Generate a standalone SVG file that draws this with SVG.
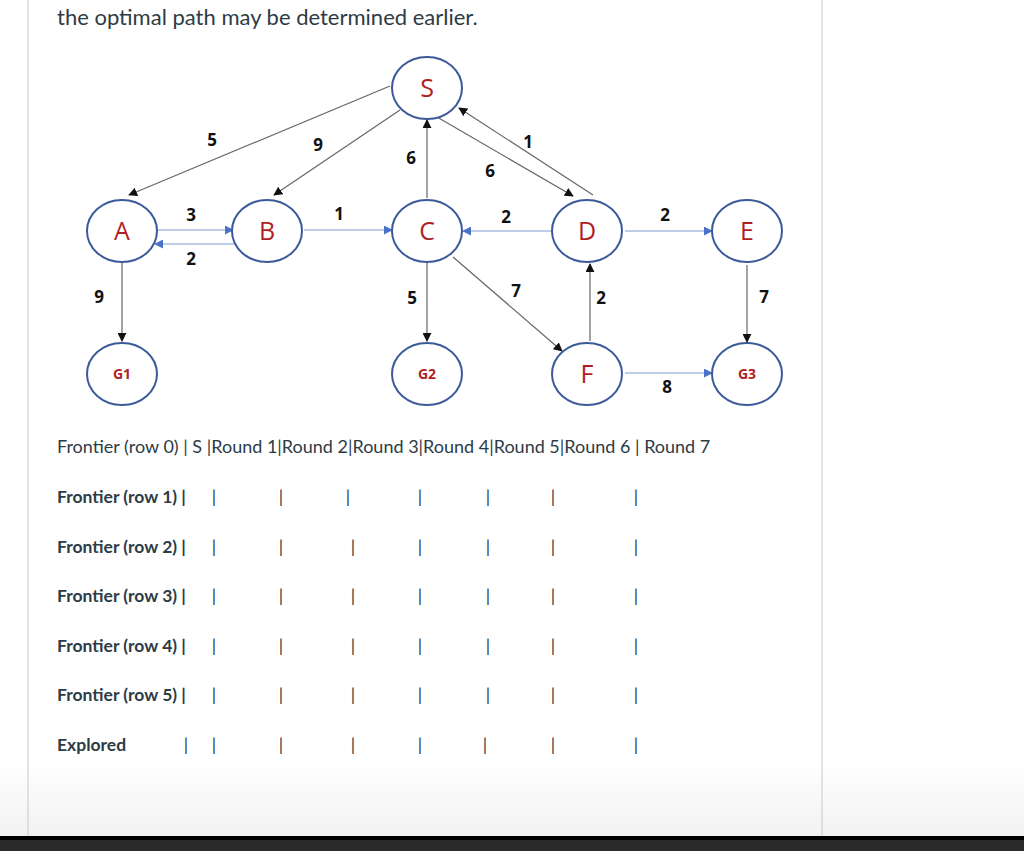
<svg xmlns="http://www.w3.org/2000/svg" width="1024" height="851" viewBox="0 0 1024 851">
<defs>
<linearGradient id="bg" x1="0" y1="0" x2="0" y2="1"><stop offset="0" stop-color="#fff"/><stop offset="1" stop-color="#f2f2f2"/></linearGradient>
<marker id="ak" viewBox="0 0 10 10" refX="9" refY="5" markerWidth="9" markerHeight="9" markerUnits="userSpaceOnUse" orient="auto"><path d="M0,0L10,5L0,10z" fill="#111"/></marker>
<marker id="ab" viewBox="0 0 10 10" refX="9" refY="5" markerWidth="9" markerHeight="9" markerUnits="userSpaceOnUse" orient="auto"><path d="M0,0L10,5L0,10z" fill="#4a72c8"/></marker>
</defs>
<style>
.n{fill:#fff;stroke:#3c5a9a;stroke-width:2}
.t{font-family:"Open Sans","Liberation Sans",sans-serif;fill:#b01e23;text-anchor:middle}
.big{font-size:25px}
.sm{font-size:14px;font-weight:bold}
.k{stroke:#666;stroke-width:1.2;fill:none;marker-end:url(#ak)}
.b{stroke:#7f9bd6;stroke-width:1.2;fill:none;marker-end:url(#ab)}
.w{font-family:"Open Sans","Liberation Sans",sans-serif;font-size:17px;font-weight:bold;fill:#111;text-anchor:middle}
.x{font-family:Lato,"Liberation Sans",sans-serif;fill:#2d3b45}
.r{font-size:18px}
.h{font-size:17.5px;font-weight:bold}
.p{font-size:17.5px;fill:#2d3b45}
</style>
<rect width="1024" height="851" fill="#fff"/>
<rect x="0" y="760" width="1024" height="76" fill="url(#bg)"/>
<line x1="28" y1="0" x2="28" y2="836" stroke="#c8c8c8"/>
<line x1="822" y1="0" x2="822" y2="836" stroke="#c8c8c8"/>
<rect x="0" y="836" width="1024" height="15" fill="#2a2a2a"/>
<rect x="0" y="836" width="1024" height="4" fill="#000"/>
<text class="x" x="57" y="25" font-size="22">the optimal path may be determined earlier.</text>
<g id="connectors">
<line class="k" x1="390" y1="86" x2="129" y2="195"/>
<line class="k" x1="400" y1="110" x2="274" y2="195"/>
<line class="k" x1="427" y1="198" x2="427" y2="120"/>
<line class="k" x1="437" y1="117" x2="573" y2="196"/>
<line class="k" x1="593" y1="195" x2="459" y2="108"/>
<line class="b" x1="158" y1="230" x2="233" y2="230"/>
<line class="b" x1="235" y1="244" x2="155" y2="244"/>
<line class="b" x1="304" y1="230" x2="392" y2="230"/>
<line class="b" x1="552" y1="231" x2="463" y2="231"/>
<line class="b" x1="625" y1="231" x2="712" y2="231"/>
<line class="k" x1="122" y1="263" x2="122" y2="341"/>
<line class="k" x1="427" y1="263" x2="427" y2="341"/>
<line class="k" x1="453" y1="257" x2="562" y2="351"/>
<line class="k" x1="590" y1="341" x2="590" y2="264"/>
<line class="k" x1="747" y1="265" x2="747" y2="342"/>
<line class="b" x1="625" y1="373" x2="712" y2="373"/>
<text class="w" x="212" y="146">5</text>
<text class="w" x="318" y="151">9</text>
<text class="w" x="411" y="164">6</text>
<text class="w" x="490" y="177">6</text>
<text class="w" x="528" y="148">1</text>
<text class="w" x="191" y="221">3</text>
<text class="w" x="191" y="265">2</text>
<text class="w" x="339" y="220">1</text>
<text class="w" x="506" y="223">2</text>
<text class="w" x="665" y="221">2</text>
<text class="w" x="99" y="303">9</text>
<text class="w" x="412" y="304">5</text>
<text class="w" x="516" y="297">7</text>
<text class="w" x="601" y="304">2</text>
<text class="w" x="764" y="303">7</text>
<text class="w" x="667" y="393">8</text>
</g>
<g id="S"><ellipse class="n" cx="427" cy="88" rx="35" ry="31"/><text class="t big" x="427" y="97">S</text></g>
<g id="A"><ellipse class="n" cx="122" cy="231" rx="35" ry="31"/><text class="t big" x="122" y="240">A</text></g>
<g id="B"><ellipse class="n" cx="267" cy="231" rx="35" ry="31"/><text class="t big" x="267" y="240">B</text></g>
<g id="C"><ellipse class="n" cx="427" cy="231" rx="35" ry="31"/><text class="t big" x="427" y="240">C</text></g>
<g id="D"><ellipse class="n" cx="587" cy="231" rx="35" ry="31"/><text class="t big" x="587" y="240">D</text></g>
<g id="E"><ellipse class="n" cx="747" cy="231" rx="35" ry="31"/><text class="t big" x="747" y="240">E</text></g>
<g id="G1"><ellipse class="n" cx="122" cy="374" rx="35" ry="31"/><text class="t sm" x="122" y="379">G1</text></g>
<g id="G2"><ellipse class="n" cx="427" cy="374" rx="35" ry="31"/><text class="t sm" x="427" y="379">G2</text></g>
<g id="F"><ellipse class="n" cx="587" cy="374" rx="35" ry="31"/><text class="t big" x="587" y="383">F</text></g>
<g id="G3"><ellipse class="n" cx="747" cy="374" rx="35" ry="31"/><text class="t sm" x="747" y="379">G3</text></g>
<g id="table" class="x">
<text class="r" x="57" y="453">Frontier (row 0) | S |Round 1|Round 2|Round 3|Round 4|Round 5|Round 6 | Round 7</text>
<text class="h" x="57" y="503">Frontier (row 1) |</text>
<text class="h" x="57" y="553">Frontier (row 2) |</text>
<text class="h" x="57" y="602">Frontier (row 3) |</text>
<text class="h" x="57" y="652">Frontier (row 4) |</text>
<text class="h" x="57" y="701">Frontier (row 5) |</text>
<text class="h" x="57" y="751">Explored</text>
<g text-anchor="middle">
<text class="p" y="503"><tspan x="214">|</tspan><tspan x="281">|</tspan><tspan x="348">|</tspan><tspan x="420">|</tspan><tspan x="488">|</tspan><tspan x="553">|</tspan><tspan x="636">|</tspan></text>
<text class="p" y="553"><tspan x="214">|</tspan><tspan x="281">|</tspan><tspan x="353">|</tspan><tspan x="420">|</tspan><tspan x="488">|</tspan><tspan x="553">|</tspan><tspan x="636">|</tspan></text>
<text class="p" y="602"><tspan x="214">|</tspan><tspan x="281">|</tspan><tspan x="353">|</tspan><tspan x="420">|</tspan><tspan x="488">|</tspan><tspan x="553">|</tspan><tspan x="636">|</tspan></text>
<text class="p" y="652"><tspan x="214">|</tspan><tspan x="281">|</tspan><tspan x="353">|</tspan><tspan x="420">|</tspan><tspan x="488">|</tspan><tspan x="553">|</tspan><tspan x="636">|</tspan></text>
<text class="p" y="701"><tspan x="214">|</tspan><tspan x="281">|</tspan><tspan x="353">|</tspan><tspan x="420">|</tspan><tspan x="488">|</tspan><tspan x="553">|</tspan><tspan x="636">|</tspan></text>
<text class="p" y="751"><tspan x="186">|</tspan><tspan x="214">|</tspan><tspan x="281">|</tspan><tspan x="353">|</tspan><tspan x="420">|</tspan><tspan x="485">|</tspan><tspan x="553">|</tspan><tspan x="636">|</tspan></text>
</g>
</g>
</svg>
